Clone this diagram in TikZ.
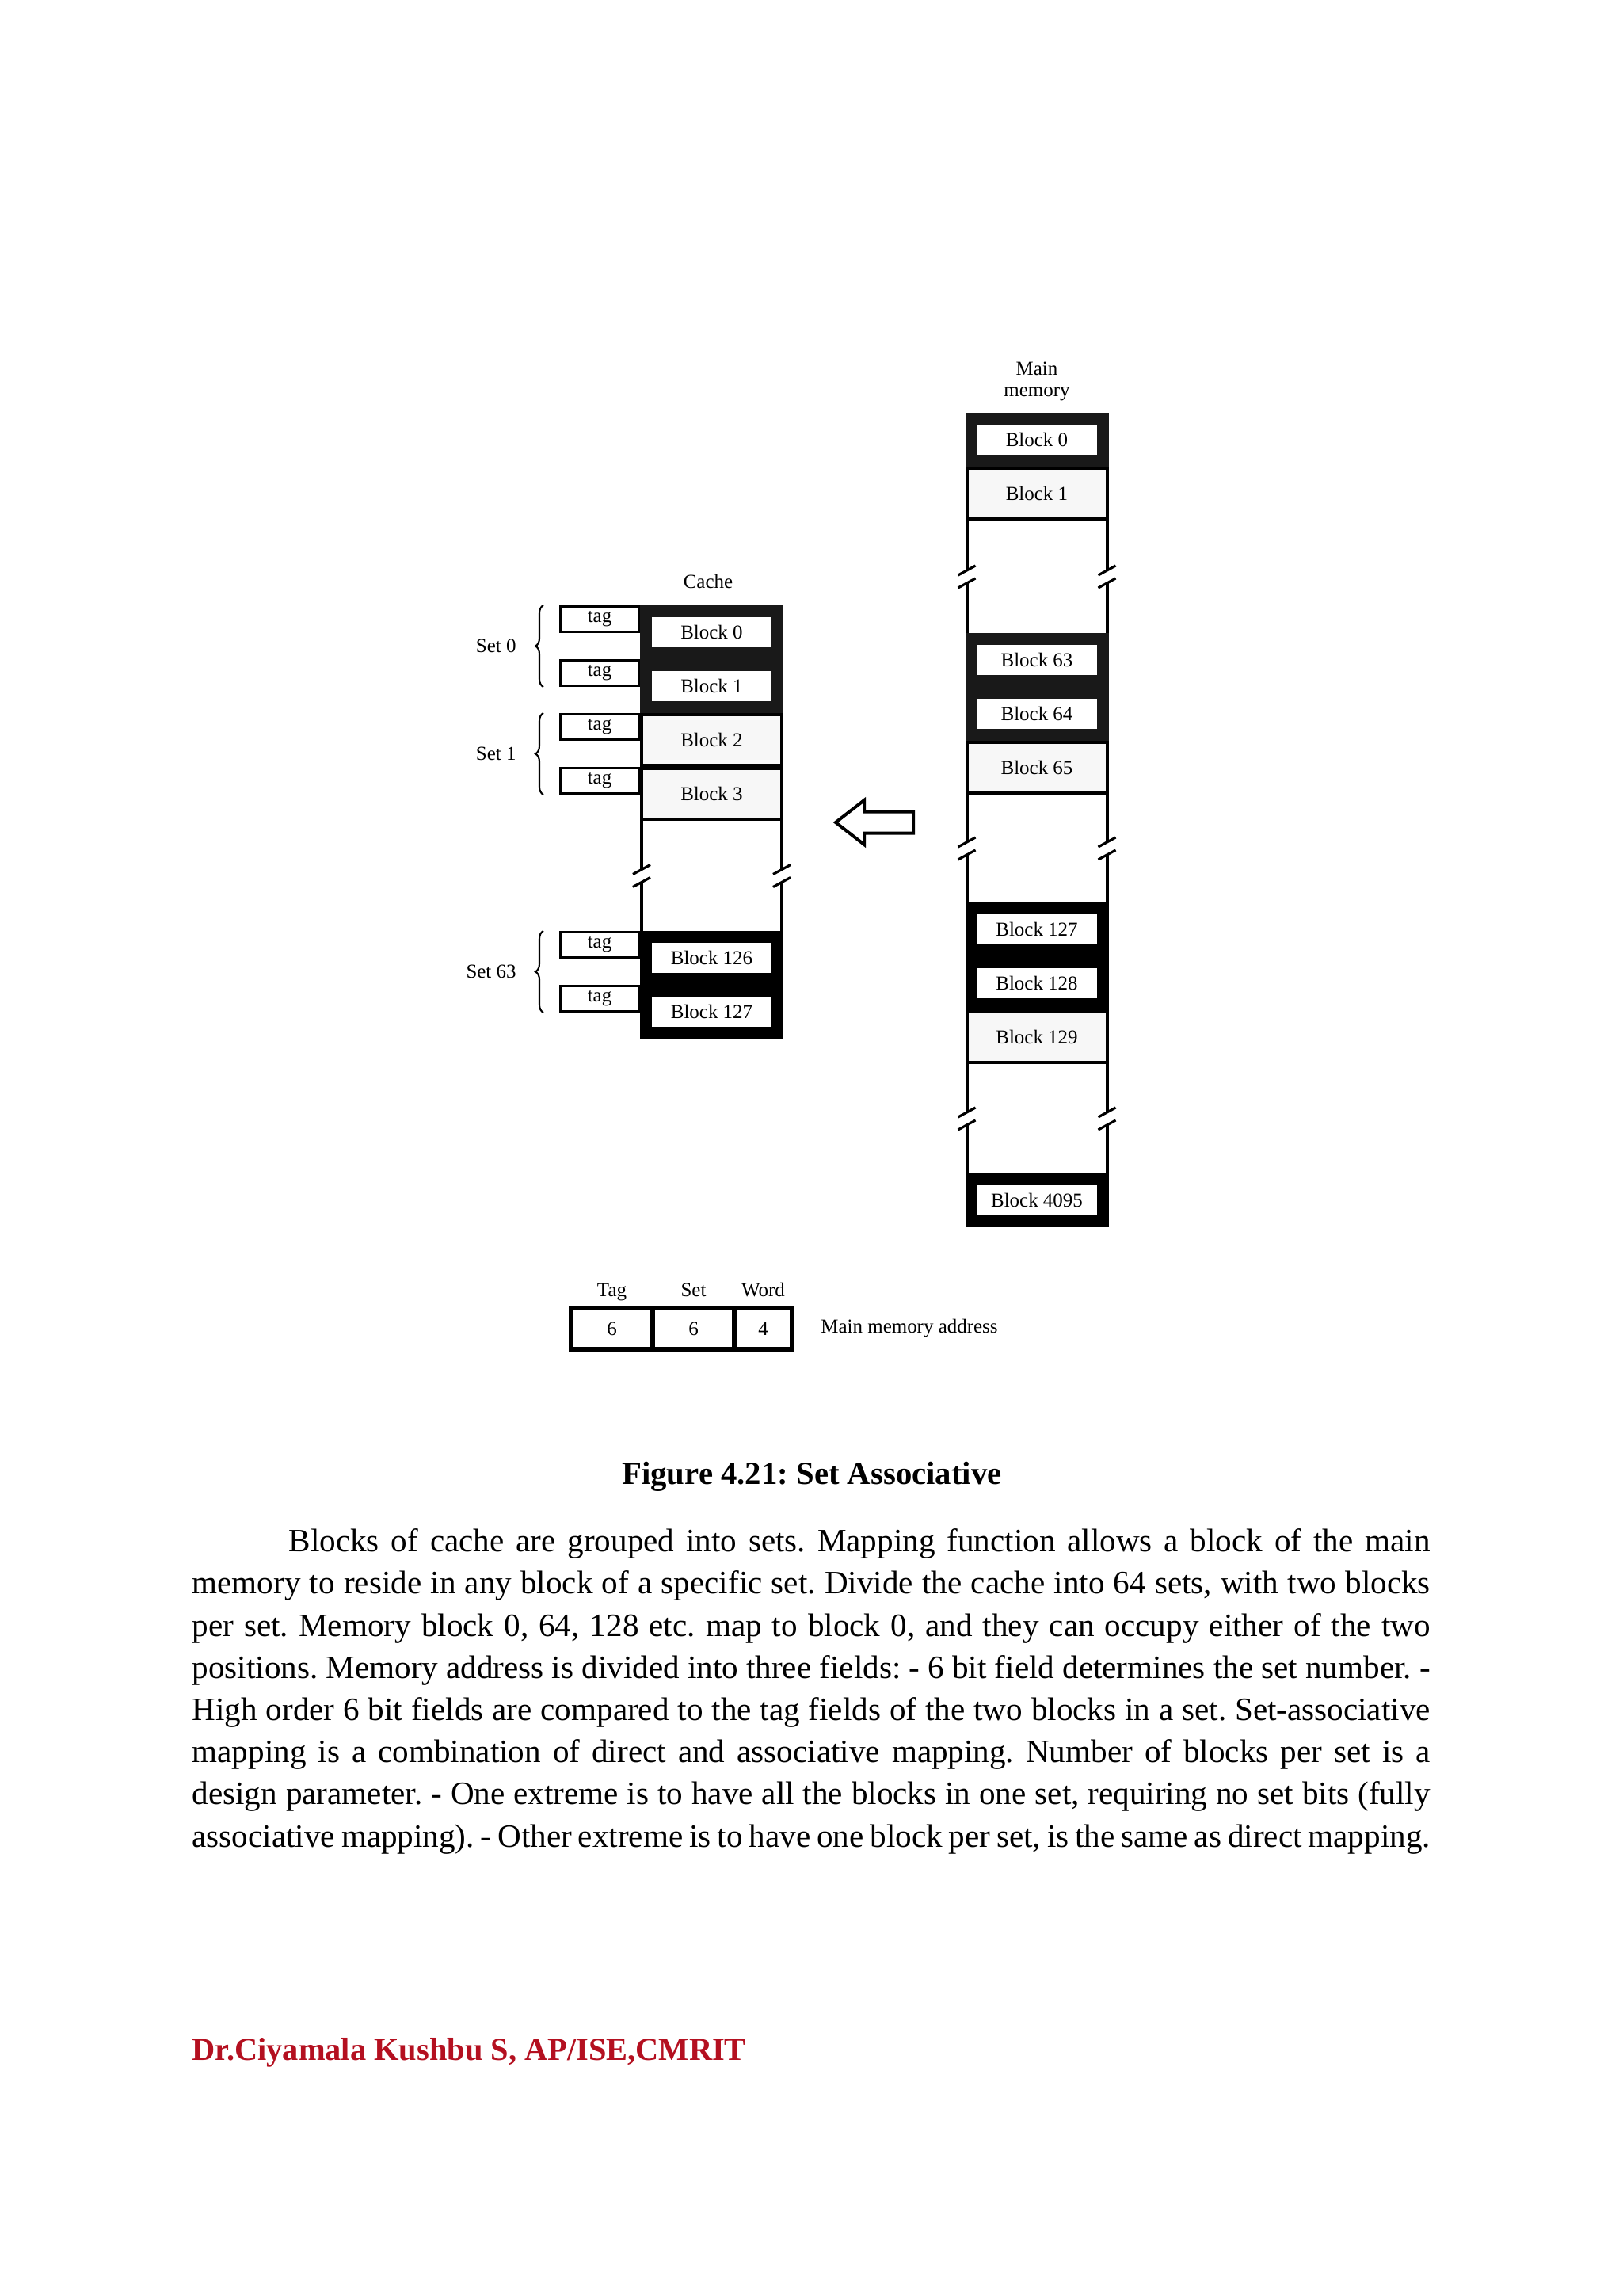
\documentclass[tikz,border=0pt]{standalone}
\usepackage{fontspec}
\setmainfont{Liberation Serif}
\usepackage{xcolor}
\usetikzlibrary{positioning,decorations.pathreplacing}
\definecolor{footred}{RGB}{180,16,32}
\frenchspacing

\begin{document}
\begin{tikzpicture}[every node/.style={font=\fontsize{7.1}{7.9}\selectfont},
    gapmark/.pic={
      \fill[white] (-0.11,0.02) -- (0.11,0.14) -- (0.11,-0.02) -- (-0.11,-0.14) -- cycle;
      \draw[line width=0.9pt] (-0.11,0.02) -- (0.11,0.14);
      \draw[line width=0.9pt] (-0.11,-0.14) -- (0.11,-0.02);
    }]
    \tikzstyle{darkblk}=[draw=black!90, line width=0.15cm, fill=white, minimum width=1.66cm, minimum height=0.53cm, inner sep=0]
    \tikzstyle{blackblk}=[darkblk, draw=black]
    \tikzstyle{lightblk}=[draw, line width=0.04cm, fill=black!3, minimum width=1.77cm, minimum height=0.64cm, inner sep=0]
    \tikzstyle{tagbox}=[draw, line width=0.03cm, fill=white, minimum width=0.99cm, minimum height=0.32cm, inner sep=0]
    \tikzstyle{colside}=[line width=0.04cm]
    \tikzstyle{brc}=[decorate, decoration={brace, amplitude=0.1cm}, line width=0.6pt]
    \tikzstyle{field}=[draw, line width=0.06cm, minimum height=0.52cm, inner sep=0, outer sep=0]
    \useasboundingbox (0,0) rectangle (20.48,-28.98);

    % cache
    \node (cachet) at (8.94,-7.34) {Cache};
    \node[darkblk] (cb0) at (8.985,-7.98) {Block 0};
    \node[darkblk, below=0pt of cb0] (cb1) {Block 1};
    \node[lightblk, below=0pt of cb1] (cb2) {Block 2};
    \node[lightblk, below=0pt of cb2] (cb3) {Block 3};
    \node[blackblk] (cb126) at (8.985,-12.09) {Block 126};
    \node[blackblk, below=0pt of cb126] (cb127) {Block 127};
    \draw[colside] ([xshift=0.02cm]cb3.south west) -- ([xshift=0.02cm]cb126.north west);
    \draw[colside] ([xshift=-0.02cm]cb3.south east) -- ([xshift=-0.02cm]cb126.north east);
    \pic at (8.10,-11.055) {gapmark};
    \pic at (9.87,-11.055) {gapmark};

    % tags and sets
    \node[tagbox, anchor=north east] (tg0) at (cb0.north west) {tag};
    \node[tagbox, anchor=north east] (tg1) at (cb1.north west) {tag};
    \node[tagbox, anchor=north east] (tg2) at (cb2.north west) {tag};
    \node[tagbox, anchor=north east] (tg3) at (cb3.north west) {tag};
    \node[tagbox, anchor=north east] (tg126) at (cb126.north west) {tag};
    \node[tagbox, anchor=north east] (tg127) at (cb127.north west) {tag};
    \draw[brc] ([xshift=-0.2cm]tg1.south west) -- ([xshift=-0.2cm]tg0.north west);
    \draw[brc] ([xshift=-0.2cm]tg3.south west) -- ([xshift=-0.2cm]tg2.north west);
    \draw[brc] ([xshift=-0.2cm]tg127.south west) -- ([xshift=-0.2cm]tg126.north west);
    \node[anchor=east] (set0) at (6.64,-8.15) {Set 0};
    \node[anchor=east] (set1) at (6.64,-9.515) {Set 1};
    \node[anchor=east] (set63) at (6.64,-12.265) {Set 63};

    % main memory
    \node[align=center] (maint) at (13.09,-4.815) {Main\\memory};
    \node[darkblk] (mb0) at (13.09,-5.55) {Block 0};
    \node[lightblk, below=0pt of mb0] (mb1) {Block 1};
    \node[darkblk] (mb63) at (13.09,-8.33) {Block 63};
    \node[darkblk, below=0pt of mb63] (mb64) {Block 64};
    \node[lightblk, below=0pt of mb64] (mb65) {Block 65};
    \node[blackblk] (mb127) at (13.09,-11.73) {Block 127};
    \node[blackblk, below=0pt of mb127] (mb128) {Block 128};
    \node[lightblk, below=0pt of mb128] (mb129) {Block 129};
    \node[blackblk] (mb4095) at (13.09,-15.15) {Block 4095};
    \draw[colside] ([xshift=0.02cm]mb1.south west) -- ([xshift=0.02cm]mb63.north west);
    \draw[colside] ([xshift=-0.02cm]mb1.south east) -- ([xshift=-0.02cm]mb63.north east);
    \draw[colside] ([xshift=0.02cm]mb65.south west) -- ([xshift=0.02cm]mb127.north west);
    \draw[colside] ([xshift=-0.02cm]mb65.south east) -- ([xshift=-0.02cm]mb127.north east);
    \draw[colside] ([xshift=0.02cm]mb129.south west) -- ([xshift=0.02cm]mb4095.north west);
    \draw[colside] ([xshift=-0.02cm]mb129.south east) -- ([xshift=-0.02cm]mb4095.north east);
    \pic at (12.205,-7.28) {gapmark};
    \pic at (13.975,-7.28) {gapmark};
    \pic at (12.205,-10.71) {gapmark};
    \pic at (13.975,-10.71) {gapmark};
    \pic at (12.205,-14.12) {gapmark};
    \pic at (13.975,-14.12) {gapmark};

    % hollow arrow
    \draw[line width=0.04cm] (10.55,-10.38) -- (10.91,-10.10) -- (10.91,-10.245) -- (11.53,-10.245)
      -- (11.53,-10.515) -- (10.91,-10.515) -- (10.91,-10.66) -- cycle;

    % address fields
    \node[field, minimum width=1.03cm] (ftag) at (7.725,-16.77) {6};
    \node[field, minimum width=1.03cm, right=0pt of ftag] (fset) {6};
    \node[field, minimum width=0.73cm, right=0pt of fset] (fword) {4};
    \node[above=0.15cm of ftag, anchor=base] (ltag) {Tag};
    \node[above=0.15cm of fset, anchor=base] (lset) {Set};
    \node[above=0.15cm of fword, anchor=base] (lword) {Word};
    \node[right=0.24cm of fword] (addr) {Main memory address};

    % caption, text, footer
    \node[anchor=base, font=\fontsize{11.6}{14}\selectfont\bfseries] (cap) at (10.25,-18.73) {Figure 4.21: Set Associative};
    \node[anchor=north west, inner sep=0, text width=15.63cm, align=justify, font=\fontsize{11.7}{15.14}\selectfont] (body) at (2.42,-19.29)
      {\parfillskip=0pt\hspace*{1.22cm}Blocks of cache are grouped into sets. Mapping function allows a block of the main\linebreak
      memory to reside in any block of a specific set. Divide the cache into 64 sets, with two blocks\linebreak
      per set. Memory block 0, 64, 128 etc. map to block 0, and they can occupy either of the two\linebreak
      positions. Memory address is divided into three fields: - 6 bit field determines the set number. -\linebreak
      High order 6 bit fields are compared to the tag fields of the two blocks in a set. Set-associative\linebreak
      mapping is a combination of direct and associative mapping. Number of blocks per set is a\linebreak
      design parameter. - One extreme is to have all the blocks in one set, requiring no set bits (fully\linebreak
      associative mapping). - Other extreme is to have one block per set, is the same as direct mapping.};
    \node[anchor=base west, inner sep=0, text=footred, font=\fontsize{11.5}{14}\selectfont\bfseries] (foot) at (2.42,-26.00) {Dr.Ciyamala Kushbu S, AP/ISE,CMRIT};
\end{tikzpicture}
\end{document}
